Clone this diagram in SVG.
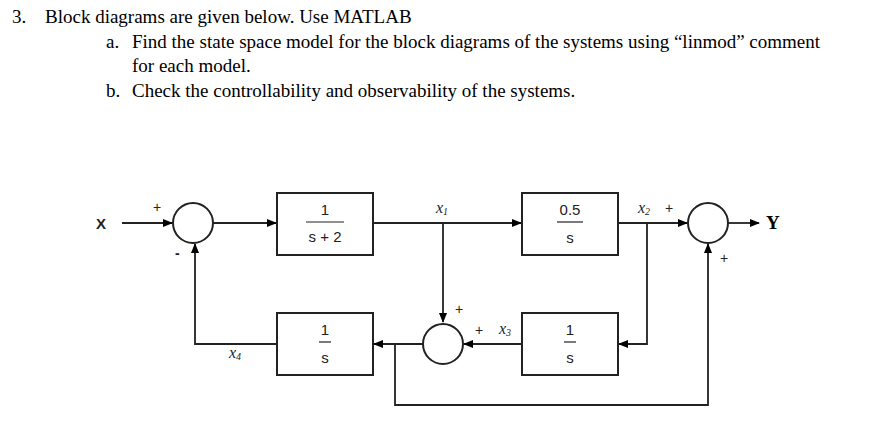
<svg xmlns="http://www.w3.org/2000/svg" width="896" height="423" viewBox="0 0 896 423">
<defs>
<marker id="ah" markerWidth="10" markerHeight="8" refX="9" refY="4" orient="auto" markerUnits="userSpaceOnUse"><path d="M0,0 L10,4 L0,8 Z" fill="#000"/></marker>
<style>
.t{font-family:"Liberation Serif",serif;font-size:19px;fill:#000}
.l{font-family:"Liberation Sans",sans-serif;font-size:15px;fill:#222}
.i{font-family:"Liberation Serif",serif;font-style:italic;font-size:16px;fill:#222}
.s{font-family:"Liberation Sans",sans-serif;font-size:14px;fill:#222}
.b{fill:#fff;stroke:#222;stroke-width:2}
.w{fill:none;stroke:#222;stroke-width:1.8}
</style>
</defs>
<rect width="896" height="423" fill="#fff"/>
<text class="t" x="12" y="23">3.</text>
<text class="t" x="45" y="23">Block diagrams are given below. Use MATLAB</text>
<text class="t" x="106" y="48">a.</text>
<text class="t" x="132" y="48">Find the state space model for the block diagrams of the systems using “linmod” comment</text>
<text class="t" x="132" y="72">for each model.</text>
<text class="t" x="106" y="97">b.</text>
<text class="t" x="132" y="97">Check the controllability and observability of the systems.</text>
<g id="connectors">
<path class="w" d="M122,223 H172" marker-end="url(#ah)"/>
<path class="w" d="M213,223 H276" marker-end="url(#ah)"/>
<path class="w" d="M373,223 H521" marker-end="url(#ah)"/>
<path class="w" d="M443,223 V322" marker-end="url(#ah)"/>
<path class="w" d="M618,223 H687" marker-end="url(#ah)"/>
<path class="w" d="M728,223 H759" marker-end="url(#ah)"/>
<path class="w" d="M647,223 V344 H619" marker-end="url(#ah)"/>
<path class="w" d="M522,344 H464" marker-end="url(#ah)"/>
<path class="w" d="M423,344 H374" marker-end="url(#ah)"/>
<path class="w" d="M395,344 V405 H708 V244" marker-end="url(#ah)"/>
<path class="w" d="M277,344 H195 V244" marker-end="url(#ah)"/>
</g>
<g id="sum1"><circle class="b" cx="193" cy="223" r="20"/></g>
<g id="sum2"><circle class="b" cx="443" cy="344" r="20"/></g>
<g id="sum3"><circle class="b" cx="708" cy="223" r="20"/></g>
<g id="block1"><rect class="b" x="277" y="193" width="96" height="62"/>
<text class="l" x="325" y="215" text-anchor="middle">1</text><line x1="306" y1="222" x2="344" y2="222" stroke="#222" stroke-width="1.2"/><text class="l" x="325" y="242" text-anchor="middle">s + 2</text></g>
<g id="block2"><rect class="b" x="522" y="193" width="96" height="62"/>
<text class="l" x="570" y="215" text-anchor="middle">0.5</text><line x1="557" y1="222" x2="583" y2="222" stroke="#222" stroke-width="1.2"/><text class="l" x="570" y="243" text-anchor="middle">s</text></g>
<g id="block3"><rect class="b" x="522" y="313" width="96" height="62"/>
<text class="l" x="570" y="335" text-anchor="middle">1</text><line x1="564" y1="342" x2="576" y2="342" stroke="#222" stroke-width="1.2"/><text class="l" x="570" y="363" text-anchor="middle">s</text></g>
<g id="block4"><rect class="b" x="277" y="313" width="96" height="62"/>
<text class="l" x="325" y="335" text-anchor="middle">1</text><line x1="319" y1="342" x2="331" y2="342" stroke="#222" stroke-width="1.2"/><text class="l" x="325" y="363" text-anchor="middle">s</text></g>
<g id="labels">
<text class="l" x="96" y="229" font-weight="bold">X</text>
<text class="t" x="766" y="229" font-weight="bold" font-size="16">Y</text>
<text class="i" x="436" y="213">x<tspan font-size="10" dy="2">1</tspan></text>
<text class="i" x="638" y="213">x<tspan font-size="10" dy="2">2</tspan></text>
<text class="i" x="499" y="334">x<tspan font-size="10" dy="2">3</tspan></text>
<text class="i" x="229" y="358">x<tspan font-size="10" dy="2">4</tspan></text>
<text class="s" x="153" y="212">+</text>
<text class="s" x="175" y="258" font-size="16" font-weight="bold">-</text>
<text class="s" x="455" y="314">+</text>
<text class="s" x="475" y="335">+</text>
<text class="s" x="665" y="213">+</text>
<text class="s" x="720" y="263">+</text>
</g>
</svg>
